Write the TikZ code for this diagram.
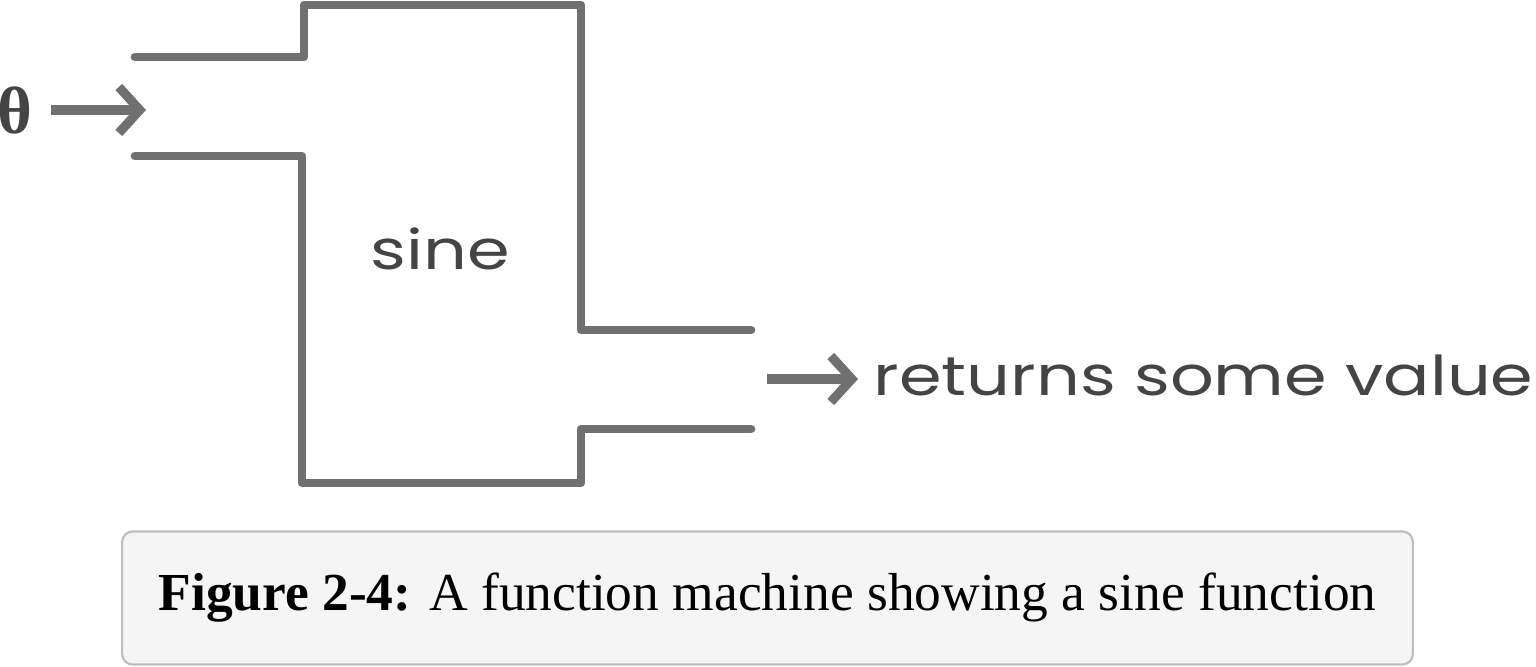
\documentclass[tikz,border=0pt]{standalone}
\usepackage{fontspec}
\setmainfont{Liberation Serif}
\newfontfamily\machinefont[FakeStretch=1.25]{Poppins}
\usetikzlibrary{arrows.meta,positioning}
\definecolor{pipegray}{HTML}{707070}
\definecolor{labelgray}{HTML}{444444}
\definecolor{boxfill}{HTML}{F5F5F5}
\definecolor{boxline}{HTML}{BDBDBD}
\begin{document}
\begin{tikzpicture}[x=0.01cm,y=-0.01cm,
  pipe/.style = {draw=pipegray, line width=2.5pt, line cap=round, line join=round},
  flow/.style = {draw=pipegray, line width=2.6pt, -{Straight Barb[length=2.1mm,width=4.6mm]}},
  word/.style = {text=labelgray, font=\machinefont\fontsize{15.6}{19}\selectfont, inner sep=0pt},]
\useasboundingbox (0,0) rectangle (1536,667);
% the machine
\draw[pipe] (135,57)--(304,57)--(304,5)--(581,5)--(581,330)--(751,330);
\draw[pipe] (135,156)--(302,156)--(302,483)--(581,483)--(581,429)--(751,429);
\node[word,anchor=base] (sine) at (440,270) {sine};
% input
\node (theta) at (15,110)[text=labelgray,font=\bfseries\fontsize{19}{22}\selectfont,inner sep=0pt] {θ};
\coordinate (in0) at (51,110);
\coordinate (in1) at (146,110);
\draw[flow] (in0)--(in1);
% output
\node[word,anchor=base west] (out) at (873,396) {returns some value};
\coordinate (out0) at (767,379);
\coordinate (out1) at (858,379);
\draw[flow] (out0)--(out1);
% caption
\node (cap) at (767.5,598)[draw=boxline,fill=boxfill,rounded corners=3pt,line width=0.6pt,
  minimum width=12.9cm,minimum height=1.33cm,font=\fontsize{15.2}{18}\selectfont]
  {\textbf{Figure 2-4:} A function machine showing a sine function};
\end{tikzpicture}
\end{document}
